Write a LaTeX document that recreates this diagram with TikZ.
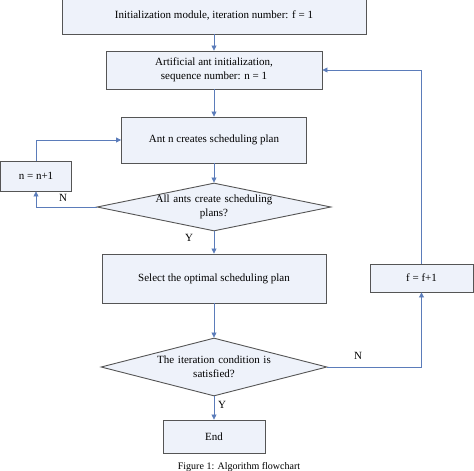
\documentclass[tikz,border=0pt]{standalone}
\usepackage{fontspec}
\setmainfont{Liberation Serif}
\usetikzlibrary{arrows.meta,shapes.geometric}

\definecolor{boxfill}{RGB}{238,242,250}
\definecolor{boxline}{RGB}{85,85,85}
\definecolor{flowblue}{RGB}{91,124,186}

\tikzset{
    stepbox/.style={draw=boxline, fill=boxfill, line width=0.9pt, inner sep=0pt,
        align=center, font=\fontsize{11}{14.5}\selectfont},
    testbox/.style={diamond, draw=boxline, fill=boxfill, line width=0.9pt, inner sep=-6pt,
        text width=134pt, align=center, font=\fontsize{11}{14.5}\selectfont},
    flow/.style={draw=flowblue, line width=0.8pt, -{Triangle[length=5pt,width=5pt]}},
    yn/.style={font=\fontsize{11}{12}\selectfont}
}

\begin{document}
\begin{tikzpicture}[x=1pt, y=-1pt]

    \useasboundingbox (0,0) rectangle (474,471);

    % Main column
    \node[stepbox, minimum width=304, minimum height=38] (init) at (214,15)
        {Initialization module, iteration number: f = 1};
    \node[stepbox, minimum width=216, minimum height=38] (antinit) at (214,70)
        {Artificial ant initialization,\\ sequence number: n = 1};
    \node[stepbox, minimum width=185, minimum height=46] (create) at (214,140)
        {Ant n creates scheduling plan};
    \node[testbox, aspect=4.875, minimum width=234, minimum height=48] (allants) at (214,207)
        {All ants create scheduling\\ plans?};
    \node[stepbox, minimum width=224, minimum height=49] (select) at (214,278.5)
        {Select the optimal scheduling plan};
    \node[testbox, aspect=3.9, minimum width=226, minimum height=58] (iter) at (214,367)
        {The iteration condition is\\ satisfied?};
    \node[stepbox, minimum width=102, minimum height=33] (stop) at (214,436.5) {End};

    % Side boxes
    \node[stepbox, minimum width=71, minimum height=30] (nnext) at (36,176) {n = n+1};
    \node[stepbox, minimum width=103, minimum height=28] (fnext) at (421.5,278) {f = f+1};

    % Connectors
    \draw[flow] (init) -- (antinit);
    \draw[flow] (antinit) -- (create);
    \draw[flow] (create) -- (allants);
    \draw[flow] (allants) -- (select);
    \draw[flow] (select) -- (iter);
    \draw[flow] (iter) -- (stop);
    \draw[flow] (allants.west) -| (nnext.south);
    \draw[flow] (nnext.north) |- (create.west);
    \draw[flow] (iter.east) -| (fnext.south);
    \draw[flow] (fnext.north) |- (antinit.east);

    % Branch labels
    \node[yn] (n1) at (63,198) {N};
    \node[yn] (y1) at (189,238) {Y};
    \node[yn] (n2) at (358,356) {N};
    \node[yn] (y2) at (222,405) {Y};

    % Caption
    \node[anchor=base, font=\fontsize{10}{11}\selectfont] (caption) at (239,469)
        {\textsc{Figure 1}: Algorithm flowchart};

\end{tikzpicture}
\end{document}
